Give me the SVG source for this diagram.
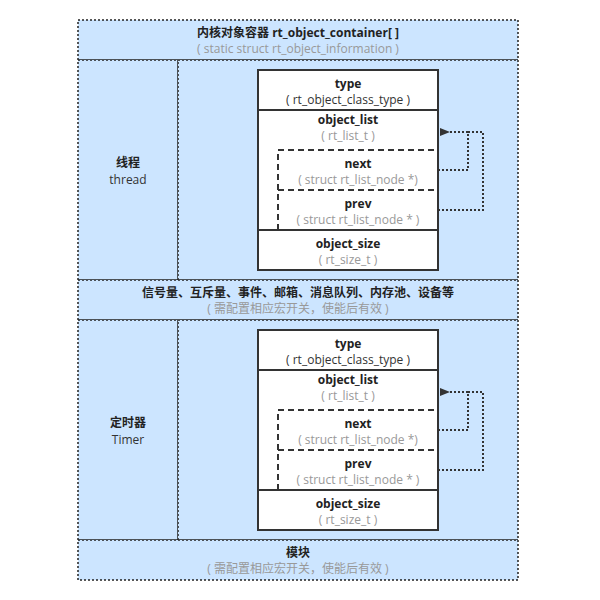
<svg xmlns="http://www.w3.org/2000/svg" width="600" height="600" viewBox="0 0 600 600">
<defs>
<style>
.band{fill:#cce5ff;stroke:#222;stroke-width:1.5;stroke-dasharray:2 2}
.box{fill:#fff;stroke:#333;stroke-width:2}
.dash{fill:none;stroke:#333;stroke-width:2;stroke-dasharray:6 4}
.link{fill:none;stroke:#333;stroke-width:2;stroke-dasharray:2 2}
text{font-family:"Open Sans","Noto Sans CJK SC",sans-serif;font-size:12px;text-anchor:middle}
.b{font-weight:bold;fill:#222}
.g{fill:#999}
.n{fill:#333}
</style>
<marker id="ah" markerWidth="10" markerHeight="8" refX="1" refY="4" orient="auto" markerUnits="userSpaceOnUse"><path d="M10,0 L0,4 L10,8 Z" fill="#333"/></marker>
</defs>
<g id="header"><rect class="band" x="78" y="20" width="440" height="40"/>
<text class="b" x="298" y="37">内核对象容器 rt_object_container[ ]</text>
<text class="g" x="298" y="53">( static struct rt_object_information )</text></g>
<g id="thread-sec"><rect class="band" x="78" y="60" width="100" height="220"/><rect class="band" x="178" y="60" width="340" height="220"/>
<text class="b" x="128" y="167">线程</text><text class="n" x="128" y="184">thread</text></g>
<g id="mid"><rect class="band" x="78" y="280" width="440" height="40"/>
<text class="b" x="298" y="297">信号量、互斥量、事件、邮箱、消息队列、内存池、设备等</text>
<text class="g" x="298" y="313">( 需配置相应宏开关，使能后有效 )</text></g>
<g id="timer-sec"><rect class="band" x="78" y="320" width="100" height="220"/><rect class="band" x="178" y="320" width="340" height="220"/>
<text class="b" x="128" y="427">定时器</text><text class="n" x="128" y="444">Timer</text></g>
<g id="bottom"><rect class="band" x="78" y="540" width="440" height="40"/>
<text class="b" x="298" y="557">模块</text><text class="g" x="298" y="573">( 需配置相应宏开关，使能后有效 )</text></g>
<g id="struct1">
<rect class="box" x="258" y="70" width="180" height="200"/>
<line class="box" x1="258" y1="110" x2="438" y2="110"/><line class="box" x1="258" y1="230" x2="438" y2="230"/>
<path class="dash" d="M278,230 V150 H437 M278,190 H437"/>
<text class="b" x="348" y="88">type</text><text class="n" x="348" y="104">( rt_object_class_type )</text>
<text class="b" x="348" y="124">object_list</text><text class="g" x="348" y="140">( rt_list_t )</text>
<text class="b" x="358" y="168">next</text><text class="g" x="358" y="184">( struct rt_list_node *)</text>
<text class="b" x="358" y="208">prev</text><text class="g" x="358" y="224">( struct rt_list_node * )</text>
<text class="b" x="348" y="248">object_size</text><text class="g" x="348" y="264">( rt_size_t )</text></g>
<g id="struct2">
<rect class="box" x="258" y="330" width="180" height="200"/>
<line class="box" x1="258" y1="370" x2="438" y2="370"/><line class="box" x1="258" y1="490" x2="438" y2="490"/>
<path class="dash" d="M278,490 V410 H437 M278,450 H437"/>
<text class="b" x="348" y="348">type</text><text class="n" x="348" y="364">( rt_object_class_type )</text>
<text class="b" x="348" y="384">object_list</text><text class="g" x="348" y="400">( rt_list_t )</text>
<text class="b" x="358" y="428">next</text><text class="g" x="358" y="444">( struct rt_list_node *)</text>
<text class="b" x="358" y="468">prev</text><text class="g" x="358" y="484">( struct rt_list_node * )</text>
<text class="b" x="348" y="508">object_size</text><text class="g" x="348" y="524">( rt_size_t )</text></g>
<g id="connectors">
<path class="link" d="M438,170 H468 V132 H449" marker-end="url(#ah)"/>
<path class="link" d="M438,210 H483 V132 H468"/>
<path class="link" d="M438,430 H468 V392 H449" marker-end="url(#ah)"/>
<path class="link" d="M438,470 H483 V392 H468"/>
</g>
</svg>
